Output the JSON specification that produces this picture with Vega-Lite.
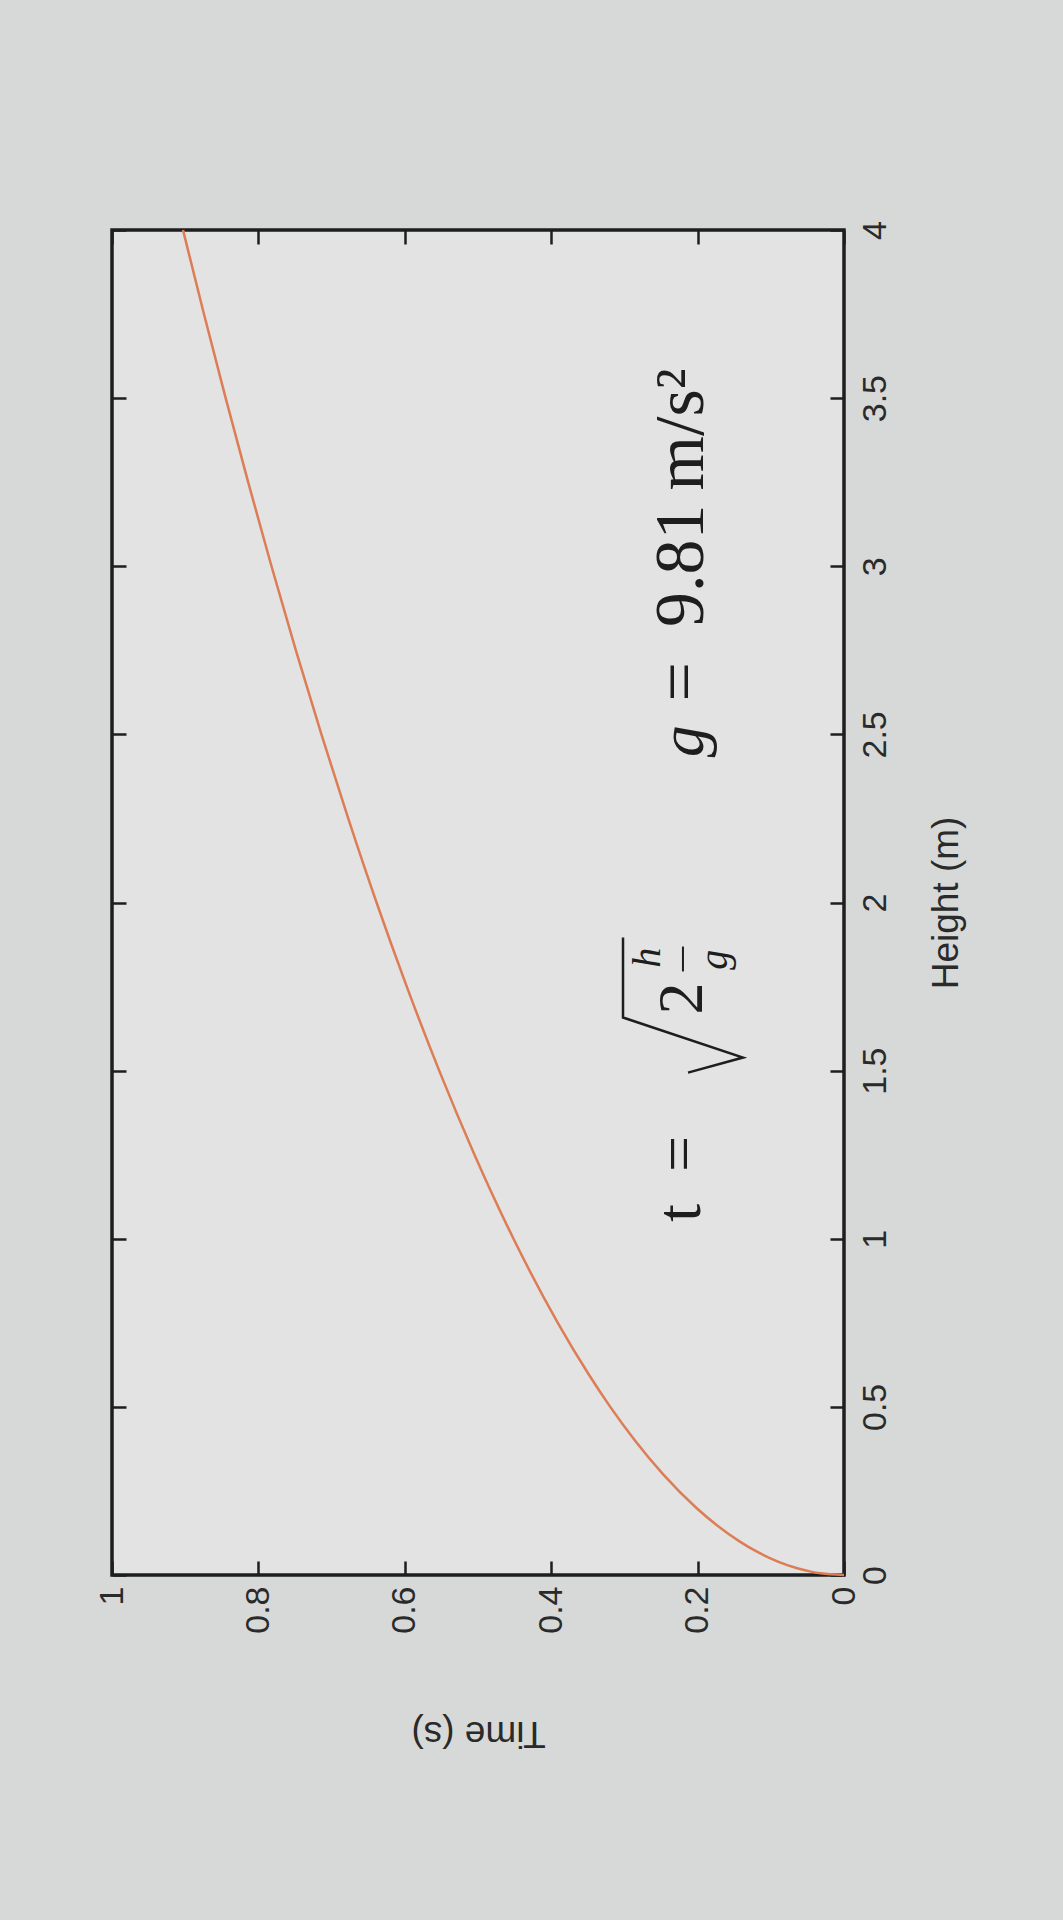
{
  "$schema": "https://vega.github.io/schema/vega-lite/v6.json",
  "width": 732,
  "height": 1345,
  "autosize": {"type": "none"},
  "padding": {"left": 112, "top": 230, "right": 219, "bottom": 345},
  "background": "#d7d9d9",
  "config": {
    "view": {"fill": "#e2e3e2", "stroke": "#1e1e1e", "strokeWidth": 3.5},
    "axis": {
      "grid": false,
      "domain": false,
      "tickSize": -14,
      "tickWidth": 2.5,
      "tickColor": "#1e1e1e",
      "labelFont": "Liberation Sans",
      "labelFontSize": 34,
      "labelColor": "#2a2a2a",
      "titleFont": "Liberation Sans",
      "titleFontSize": 37,
      "titleFontWeight": "normal",
      "titleColor": "#2a2a2a"
    }
  },
  "datasets": {
    "curve": [
      {"h": 0, "t": 0},
      {"h": 0.005, "t": 0.0319},
      {"h": 0.01, "t": 0.0452},
      {"h": 0.02, "t": 0.0639},
      {"h": 0.04, "t": 0.0903},
      {"h": 0.07, "t": 0.1195},
      {"h": 0.1, "t": 0.1428},
      {"h": 0.15, "t": 0.1749},
      {"h": 0.2, "t": 0.2019},
      {"h": 0.3, "t": 0.2473},
      {"h": 0.4, "t": 0.2856},
      {"h": 0.5, "t": 0.3193},
      {"h": 0.6, "t": 0.3497},
      {"h": 0.75, "t": 0.391},
      {"h": 1.0, "t": 0.4515},
      {"h": 1.25, "t": 0.5048},
      {"h": 1.5, "t": 0.553},
      {"h": 1.75, "t": 0.5973},
      {"h": 2.0, "t": 0.6386},
      {"h": 2.25, "t": 0.6773},
      {"h": 2.5, "t": 0.7139},
      {"h": 2.75, "t": 0.7488},
      {"h": 3.0, "t": 0.7821},
      {"h": 3.25, "t": 0.814},
      {"h": 3.5, "t": 0.8447},
      {"h": 3.75, "t": 0.8744},
      {"h": 4.0, "t": 0.903}
    ],
    "radical": [
      {"o": 1, "t": 0.2131, "h": 1.494},
      {"o": 2, "t": 0.138, "h": 1.539},
      {"o": 3, "t": 0.3019, "h": 1.658},
      {"o": 4, "t": 0.3019, "h": 1.896}
    ],
    "bigText": [
      {"t": 0.1967, "h": 1.0506, "label": "t\u2002="},
      {"t": 0.194, "h": 1.667, "label": "2"}
    ],
    "gText": [
      {"t": 0.1926, "h": 2.598, "label": "=\u20029.81\u2009m/s\u00b2"}
    ],
    "bigItalic": [
      {"t": 0.193, "h": 2.432, "label": "g"}
    ],
    "smallItalic": [
      {"t": 0.2514, "h": 1.836, "label": "h"},
      {"t": 0.1598, "h": 1.83, "label": "g"}
    ],
    "bar": [
      {"t": 0.22, "h": 1.795, "h2": 1.869}
    ]
  },
  "layer": [
    {
      "data": {"name": "curve"},
      "mark": {"type": "line", "color": "#dc7d55", "strokeWidth": 2.5, "interpolate": "monotone"},
      "encoding": {
        "x": {
          "field": "t", "type": "quantitative",
          "scale": {"domain": [0, 1], "reverse": true, "nice": false},
          "axis": {
            "orient": "bottom", "values": [0, 0.2, 0.4, 0.6, 0.8, 1], "format": "~g",
            "labelAngle": 270, "labelAlign": "right", "labelBaseline": "middle",
            "labelPadding": 25, "title": "Time (s)", "titleAngle": 180,
            "titleBaseline": "bottom", "titlePadding": 80
          }
        },
        "y": {
          "field": "h", "type": "quantitative",
          "scale": {"domain": [0, 4], "nice": false},
          "axis": {
            "orient": "right", "values": [0, 0.5, 1, 1.5, 2, 2.5, 3, 3.5, 4], "format": "~g",
            "labelAngle": 270, "labelAlign": "center", "labelBaseline": "top",
            "labelPadding": 28, "title": "Height (m)", "titleAngle": 270,
            "titleBaseline": "top", "titlePadding": 36
          }
        }
      }
    },
    {
      "data": {"name": "radical"},
      "mark": {"type": "line", "color": "#1e1e1e", "strokeWidth": 2.5},
      "encoding": {
        "x": {
          "field": "t", "type": "quantitative",
          "scale": {"domain": [0, 1], "reverse": true, "nice": false},
          "axis": {"orient": "top", "values": [0, 0.2, 0.4, 0.6, 0.8, 1], "labels": false, "title": null}
        },
        "y": {
          "field": "h", "type": "quantitative",
          "scale": {"domain": [0, 4], "nice": false},
          "axis": {"orient": "left", "values": [0, 0.5, 1, 1.5, 2, 2.5, 3, 3.5, 4], "labels": false, "title": null}
        },
        "order": {"field": "o", "type": "quantitative"}
      }
    },
    {
      "data": {"name": "bar"},
      "mark": {"type": "rule", "color": "#1e1e1e", "strokeWidth": 2},
      "encoding": {
        "x": {"field": "t", "type": "quantitative", "scale": {"domain": [0, 1], "reverse": true, "nice": false}, "axis": null},
        "y": {"field": "h", "type": "quantitative", "scale": {"domain": [0, 4], "nice": false}, "axis": null},
        "y2": {"field": "h2"}
      }
    },
    {
      "data": {"name": "bigText"},
      "mark": {"type": "text", "font": "Liberation Serif", "fontSize": 64, "angle": 270, "align": "left", "baseline": "alphabetic", "color": "#1e1e1e"},
      "encoding": {
        "x": {"field": "t", "type": "quantitative", "scale": {"domain": [0, 1], "reverse": true, "nice": false}, "axis": null},
        "y": {"field": "h", "type": "quantitative", "scale": {"domain": [0, 4], "nice": false}, "axis": null},
        "text": {"field": "label"}
      }
    },
    {
      "data": {"name": "gText"},
      "mark": {"type": "text", "font": "Liberation Serif", "fontSize": 70, "angle": 270, "align": "left", "baseline": "alphabetic", "color": "#1e1e1e"},
      "encoding": {
        "x": {"field": "t", "type": "quantitative", "scale": {"domain": [0, 1], "reverse": true, "nice": false}, "axis": null},
        "y": {"field": "h", "type": "quantitative", "scale": {"domain": [0, 4], "nice": false}, "axis": null},
        "text": {"field": "label"}
      }
    },
    {
      "data": {"name": "bigItalic"},
      "mark": {"type": "text", "font": "Liberation Serif", "fontSize": 64, "fontStyle": "italic", "angle": 270, "align": "left", "baseline": "alphabetic", "color": "#1e1e1e"},
      "encoding": {
        "x": {"field": "t", "type": "quantitative", "scale": {"domain": [0, 1], "reverse": true, "nice": false}, "axis": null},
        "y": {"field": "h", "type": "quantitative", "scale": {"domain": [0, 4], "nice": false}, "axis": null},
        "text": {"field": "label"}
      }
    },
    {
      "data": {"name": "smallItalic"},
      "mark": {"type": "text", "font": "Liberation Serif", "fontSize": 40, "fontStyle": "italic", "angle": 270, "align": "center", "baseline": "alphabetic", "color": "#1e1e1e"},
      "encoding": {
        "x": {"field": "t", "type": "quantitative", "scale": {"domain": [0, 1], "reverse": true, "nice": false}, "axis": null},
        "y": {"field": "h", "type": "quantitative", "scale": {"domain": [0, 4], "nice": false}, "axis": null},
        "text": {"field": "label"}
      }
    }
  ],
  "resolve": {"axis": {"x": "independent", "y": "independent"}}
}
